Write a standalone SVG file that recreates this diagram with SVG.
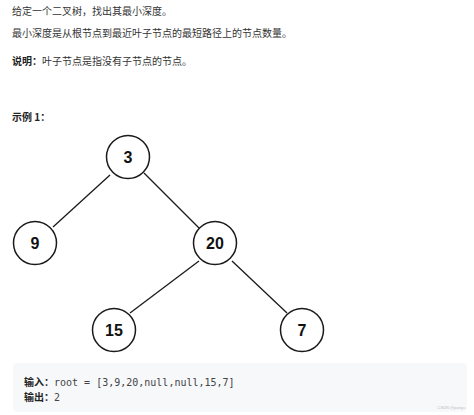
<svg xmlns="http://www.w3.org/2000/svg" width="474" height="415" viewBox="0 0 474 415">
<style>
.t{font-family:"Noto Sans CJK SC","Liberation Sans",sans-serif;font-size:10px;fill:#333}
.b{font-weight:bold;fill:#222}
.m{font-family:"DejaVu Sans Mono","Liberation Mono","Noto Sans CJK SC",monospace;font-size:10px;fill:#444}
.n circle{fill:#fff;stroke:#1a1a1a;stroke-width:1.5}
.n text{font-family:"Liberation Sans",Arial,sans-serif;font-weight:bold;font-size:16px;fill:#111;text-anchor:middle}
#edges line{stroke:#1a1a1a;stroke-width:1.3}
</style>
<rect width="474" height="415" fill="#fff"/>
<text class="t" x="12" y="15">给定一个二叉树，找出其最小深度。</text>
<text class="t" x="12" y="37">最小深度是从根节点到最近叶子节点的最短路径上的节点数量。</text>
<text class="t" x="12" y="65"><tspan class="b">说明：</tspan>叶子节点是指没有子节点的节点。</text>
<text class="t b" x="12" y="121">示例 1：</text>
<g id="edges">
<line x1="110" y1="175" x2="53" y2="227"/>
<line x1="144" y1="173" x2="199" y2="228"/>
<line x1="199" y1="261" x2="130" y2="313"/>
<line x1="232" y1="261" x2="287" y2="313"/>
</g>
<g id="n3" class="n"><circle cx="128" cy="157" r="21.5"/><text x="128" y="163">3</text></g>
<g id="n9" class="n"><circle cx="35" cy="243" r="21.5"/><text x="35" y="249">9</text></g>
<g id="n20" class="n"><circle cx="215" cy="243" r="21.5"/><text x="215" y="249">20</text></g>
<g id="n15" class="n"><circle cx="114" cy="330" r="21.5"/><text x="114" y="336">15</text></g>
<g id="n7" class="n"><circle cx="302" cy="330" r="21.5"/><text x="302" y="336">7</text></g>
<rect x="13" y="363" width="454" height="49" rx="4" fill="#f7f8fa"/>
<text class="t b" x="24" y="386">输入：</text><text class="m" x="54" y="386">root = [3,9,20,null,null,15,7]</text>
<text class="t b" x="24" y="401">输出：</text><text class="m" x="54" y="401">2</text>
<text x="465" y="409" text-anchor="end" style="font-family:'Liberation Sans',sans-serif;font-size:4px;fill:#bbb">CSDN @panyu</text>
</svg>
